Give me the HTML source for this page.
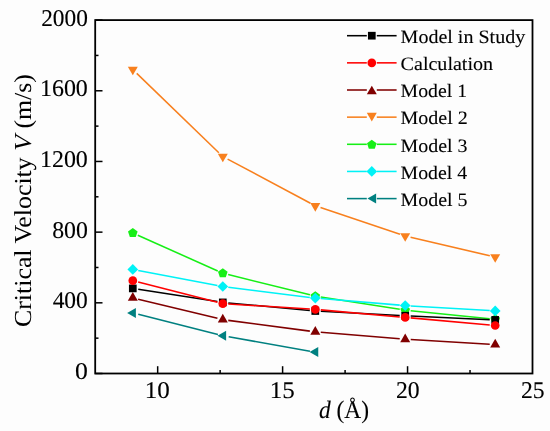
<!DOCTYPE html>
<html><head><meta charset="utf-8"><style>
html,body{margin:0;padding:0;background:#fdfdfd;}
svg{display:block;}
text{font-family:'Liberation Serif', serif;fill:#000;text-rendering:geometricPrecision;stroke:#000;stroke-width:0.1px;}
</style></head><body>
<svg width="550" height="431" viewBox="0 0 550 431">
<rect width="550" height="431" fill="#fdfdfd"/>
<line x1="137.82" y1="235.24" x2="217.78" y2="270.96" stroke="#16ef16" stroke-width="1.55"/>
<line x1="228.14" y1="274.53" x2="309.96" y2="294.87" stroke="#16ef16" stroke-width="1.55"/>
<line x1="320.73" y1="297.05" x2="399.77" y2="309.35" stroke="#16ef16" stroke-width="1.55"/>
<line x1="410.67" y1="310.75" x2="489.73" y2="318.75" stroke="#16ef16" stroke-width="1.55"/>
<line x1="138.15" y1="299.14" x2="217.45" y2="318.36" stroke="#800000" stroke-width="1.55"/>
<line x1="228.25" y1="320.37" x2="309.85" y2="331.13" stroke="#800000" stroke-width="1.55"/>
<line x1="320.78" y1="332.30" x2="399.72" y2="338.80" stroke="#800000" stroke-width="1.55"/>
<line x1="410.69" y1="339.57" x2="489.71" y2="344.23" stroke="#800000" stroke-width="1.55"/>
<line x1="136.75" y1="73.37" x2="218.85" y2="152.73" stroke="#f8801e" stroke-width="1.55"/>
<line x1="227.65" y1="159.14" x2="310.45" y2="203.26" stroke="#f8801e" stroke-width="1.55"/>
<line x1="320.51" y1="207.60" x2="399.99" y2="234.30" stroke="#f8801e" stroke-width="1.55"/>
<line x1="410.56" y1="237.30" x2="489.84" y2="255.80" stroke="#f8801e" stroke-width="1.55"/>
<line x1="138.28" y1="314.35" x2="217.92" y2="334.45" stroke="#008080" stroke-width="1.55"/>
<line x1="228.67" y1="336.76" x2="309.93" y2="351.14" stroke="#008080" stroke-width="1.55"/>
<line x1="138.23" y1="289.25" x2="217.37" y2="301.55" stroke="#000000" stroke-width="1.55"/>
<line x1="228.28" y1="302.91" x2="309.82" y2="310.49" stroke="#000000" stroke-width="1.55"/>
<line x1="320.79" y1="311.29" x2="399.71" y2="315.46" stroke="#000000" stroke-width="1.55"/>
<line x1="410.69" y1="316.00" x2="489.71" y2="319.65" stroke="#000000" stroke-width="1.55"/>
<line x1="138.13" y1="282.06" x2="217.47" y2="302.24" stroke="#ff0000" stroke-width="1.55"/>
<line x1="228.29" y1="303.94" x2="309.81" y2="309.06" stroke="#ff0000" stroke-width="1.55"/>
<line x1="320.78" y1="309.89" x2="399.72" y2="316.91" stroke="#ff0000" stroke-width="1.55"/>
<line x1="410.68" y1="317.89" x2="489.72" y2="325.01" stroke="#ff0000" stroke-width="1.55"/>
<line x1="138.20" y1="270.43" x2="217.40" y2="285.47" stroke="#00f2f6" stroke-width="1.55"/>
<line x1="228.26" y1="287.18" x2="309.84" y2="297.42" stroke="#00f2f6" stroke-width="1.55"/>
<line x1="320.78" y1="298.56" x2="399.72" y2="305.14" stroke="#00f2f6" stroke-width="1.55"/>
<line x1="410.69" y1="305.92" x2="489.71" y2="310.58" stroke="#00f2f6" stroke-width="1.55"/>
<polygon points="132.80,227.95 137.60,231.44 135.77,237.09 129.83,237.09 128.00,231.44" fill="#16ef16"/>
<polygon points="222.80,268.15 227.60,271.64 225.77,277.29 219.83,277.29 218.00,271.64" fill="#16ef16"/>
<polygon points="315.30,291.15 320.10,294.64 318.27,300.29 312.33,300.29 310.50,294.64" fill="#16ef16"/>
<polygon points="405.20,305.15 410.00,308.64 408.17,314.29 402.23,314.29 400.40,308.64" fill="#16ef16"/>
<polygon points="495.20,314.25 500.00,317.74 498.17,323.39 492.23,323.39 490.40,317.74" fill="#16ef16"/>
<polygon points="132.80,292.05 137.80,300.75 127.80,300.75" fill="#800000"/>
<polygon points="222.80,313.85 227.80,322.55 217.80,322.55" fill="#800000"/>
<polygon points="315.30,326.05 320.30,334.75 310.30,334.75" fill="#800000"/>
<polygon points="405.20,333.45 410.20,342.15 400.20,342.15" fill="#800000"/>
<polygon points="495.20,338.75 500.20,347.45 490.20,347.45" fill="#800000"/>
<polygon points="132.80,75.35 137.80,66.65 127.80,66.65" fill="#f8801e"/>
<polygon points="222.80,162.35 227.80,153.65 217.80,153.65" fill="#f8801e"/>
<polygon points="315.30,211.65 320.30,202.95 310.30,202.95" fill="#f8801e"/>
<polygon points="405.20,241.85 410.20,233.15 400.20,233.15" fill="#f8801e"/>
<polygon points="495.20,262.85 500.20,254.15 490.20,254.15" fill="#f8801e"/>
<polygon points="127.15,313.00 135.85,308.00 135.85,318.00" fill="#008080"/>
<polygon points="217.45,335.80 226.15,330.80 226.15,340.80" fill="#008080"/>
<polygon points="309.55,352.10 318.25,347.10 318.25,357.10" fill="#008080"/>
<rect x="128.95" y="284.55" width="7.70" height="7.70" fill="#000000"/>
<rect x="218.95" y="298.55" width="7.70" height="7.70" fill="#000000"/>
<rect x="311.45" y="307.15" width="7.70" height="7.70" fill="#000000"/>
<rect x="401.35" y="311.90" width="7.70" height="7.70" fill="#000000"/>
<rect x="491.35" y="316.05" width="7.70" height="7.70" fill="#000000"/>
<circle cx="132.80" cy="280.70" r="4.35" fill="#ff0000"/>
<circle cx="222.80" cy="303.60" r="4.35" fill="#ff0000"/>
<circle cx="315.30" cy="309.40" r="4.35" fill="#ff0000"/>
<circle cx="405.20" cy="317.40" r="4.35" fill="#ff0000"/>
<circle cx="495.20" cy="325.50" r="4.35" fill="#ff0000"/>
<polygon points="132.80,264.05 138.15,269.40 132.80,274.75 127.45,269.40" fill="#00f2f6"/>
<polygon points="222.80,281.15 228.15,286.50 222.80,291.85 217.45,286.50" fill="#00f2f6"/>
<polygon points="315.30,292.75 320.65,298.10 315.30,303.45 309.95,298.10" fill="#00f2f6"/>
<polygon points="405.20,300.25 410.55,305.60 405.20,310.95 399.85,305.60" fill="#00f2f6"/>
<polygon points="495.20,305.55 500.55,310.90 495.20,316.25 489.85,310.90" fill="#00f2f6"/>
<rect x="95.20" y="20.10" width="437.30" height="353.40" fill="none" stroke="#000" stroke-width="1.8"/>
<line x1="95.20" y1="373.50" x2="102.50" y2="373.50" stroke="#000" stroke-width="1.5"/>
<line x1="95.20" y1="338.16" x2="98.50" y2="338.16" stroke="#000" stroke-width="1.5"/>
<line x1="95.20" y1="302.82" x2="102.50" y2="302.82" stroke="#000" stroke-width="1.5"/>
<line x1="95.20" y1="267.48" x2="98.50" y2="267.48" stroke="#000" stroke-width="1.5"/>
<line x1="95.20" y1="232.14" x2="102.50" y2="232.14" stroke="#000" stroke-width="1.5"/>
<line x1="95.20" y1="196.80" x2="98.50" y2="196.80" stroke="#000" stroke-width="1.5"/>
<line x1="95.20" y1="161.46" x2="102.50" y2="161.46" stroke="#000" stroke-width="1.5"/>
<line x1="95.20" y1="126.12" x2="98.50" y2="126.12" stroke="#000" stroke-width="1.5"/>
<line x1="95.20" y1="90.78" x2="102.50" y2="90.78" stroke="#000" stroke-width="1.5"/>
<line x1="95.20" y1="55.44" x2="98.50" y2="55.44" stroke="#000" stroke-width="1.5"/>
<line x1="95.20" y1="20.10" x2="102.50" y2="20.10" stroke="#000" stroke-width="1.5"/>
<line x1="157.67" y1="373.50" x2="157.67" y2="366.20" stroke="#000" stroke-width="1.5"/>
<line x1="220.14" y1="373.50" x2="220.14" y2="370.00" stroke="#000" stroke-width="1.5"/>
<line x1="282.61" y1="373.50" x2="282.61" y2="366.20" stroke="#000" stroke-width="1.5"/>
<line x1="345.09" y1="373.50" x2="345.09" y2="370.00" stroke="#000" stroke-width="1.5"/>
<line x1="407.56" y1="373.50" x2="407.56" y2="366.20" stroke="#000" stroke-width="1.5"/>
<line x1="470.03" y1="373.50" x2="470.03" y2="370.00" stroke="#000" stroke-width="1.5"/>
<text x="75.07" y="379.10" font-size="24.0" textLength="12.86" lengthAdjust="spacingAndGlyphs">0</text>
<text x="52.63" y="308.42" font-size="24.0" textLength="35.21" lengthAdjust="spacingAndGlyphs">400</text>
<text x="52.15" y="237.74" font-size="24.0" textLength="35.70" lengthAdjust="spacingAndGlyphs">800</text>
<text x="39.94" y="167.06" font-size="24.0" textLength="47.91" lengthAdjust="spacingAndGlyphs">1200</text>
<text x="39.94" y="96.38" font-size="24.0" textLength="47.91" lengthAdjust="spacingAndGlyphs">1600</text>
<text x="41.17" y="25.70" font-size="24.0" textLength="46.67" lengthAdjust="spacingAndGlyphs">2000</text>
<text x="144.82" y="397.50" font-size="24.0" textLength="25.06" lengthAdjust="spacingAndGlyphs">10</text>
<text x="269.76" y="397.50" font-size="24.0" textLength="25.06" lengthAdjust="spacingAndGlyphs">15</text>
<text x="396.01" y="397.50" font-size="24.0" textLength="23.70" lengthAdjust="spacingAndGlyphs">20</text>
<text x="520.95" y="397.50" font-size="24.0" textLength="23.70" lengthAdjust="spacingAndGlyphs">25</text>
<text x="319.0" y="417.7" font-size="25" textLength="50.0" lengthAdjust="spacingAndGlyphs"><tspan font-style="italic">d</tspan> (Å)</text>
<text transform="translate(30.8,327) rotate(-90)" x="0" y="0" font-size="24.4" style="stroke:none" textLength="253" lengthAdjust="spacingAndGlyphs">Critical Velocity <tspan font-style="italic">V</tspan> (m/s)</text>
<line x1="347" y1="35.70" x2="366.80" y2="35.70" stroke="#000000" stroke-width="1.55"/>
<line x1="376.80" y1="35.70" x2="396.6" y2="35.70" stroke="#000000" stroke-width="1.55"/>
<rect x="367.95" y="31.85" width="7.70" height="7.70" fill="#000000"/>
<text x="400.6" y="43.00" font-size="18.9" textLength="124.6" lengthAdjust="spacingAndGlyphs">Model in Study</text>
<line x1="347" y1="62.85" x2="366.80" y2="62.85" stroke="#ff0000" stroke-width="1.55"/>
<line x1="376.80" y1="62.85" x2="396.6" y2="62.85" stroke="#ff0000" stroke-width="1.55"/>
<circle cx="371.80" cy="62.85" r="4.35" fill="#ff0000"/>
<text x="400.6" y="70.15" font-size="18.9" textLength="92.5" lengthAdjust="spacingAndGlyphs">Calculation</text>
<line x1="347" y1="90.00" x2="366.80" y2="90.00" stroke="#800000" stroke-width="1.55"/>
<line x1="376.80" y1="90.00" x2="396.6" y2="90.00" stroke="#800000" stroke-width="1.55"/>
<polygon points="371.80,85.65 376.80,94.35 366.80,94.35" fill="#800000"/>
<text x="400.6" y="97.30" font-size="18.9" textLength="66.5" lengthAdjust="spacingAndGlyphs">Model 1</text>
<line x1="347" y1="117.15" x2="366.80" y2="117.15" stroke="#f8801e" stroke-width="1.55"/>
<line x1="376.80" y1="117.15" x2="396.6" y2="117.15" stroke="#f8801e" stroke-width="1.55"/>
<polygon points="371.80,121.50 376.80,112.80 366.80,112.80" fill="#f8801e"/>
<text x="400.6" y="124.45" font-size="18.9" textLength="67.2" lengthAdjust="spacingAndGlyphs">Model 2</text>
<line x1="347" y1="144.30" x2="366.80" y2="144.30" stroke="#16ef16" stroke-width="1.55"/>
<line x1="376.80" y1="144.30" x2="396.6" y2="144.30" stroke="#16ef16" stroke-width="1.55"/>
<polygon points="371.80,139.73 376.60,143.22 374.77,148.87 368.83,148.87 367.00,143.22" fill="#16ef16"/>
<text x="400.6" y="151.60" font-size="18.9" textLength="67.0" lengthAdjust="spacingAndGlyphs">Model 3</text>
<line x1="347" y1="171.45" x2="366.80" y2="171.45" stroke="#00f2f6" stroke-width="1.55"/>
<line x1="376.80" y1="171.45" x2="396.6" y2="171.45" stroke="#00f2f6" stroke-width="1.55"/>
<polygon points="371.80,166.10 377.15,171.45 371.80,176.80 366.45,171.45" fill="#00f2f6"/>
<text x="400.6" y="178.75" font-size="18.9" textLength="66.6" lengthAdjust="spacingAndGlyphs">Model 4</text>
<line x1="347" y1="198.60" x2="366.80" y2="198.60" stroke="#008080" stroke-width="1.55"/>
<line x1="376.80" y1="198.60" x2="396.6" y2="198.60" stroke="#008080" stroke-width="1.55"/>
<polygon points="367.45,198.60 376.15,193.60 376.15,203.60" fill="#008080"/>
<text x="400.6" y="205.90" font-size="18.9" textLength="67.0" lengthAdjust="spacingAndGlyphs">Model 5</text>
</svg>
</body></html>
